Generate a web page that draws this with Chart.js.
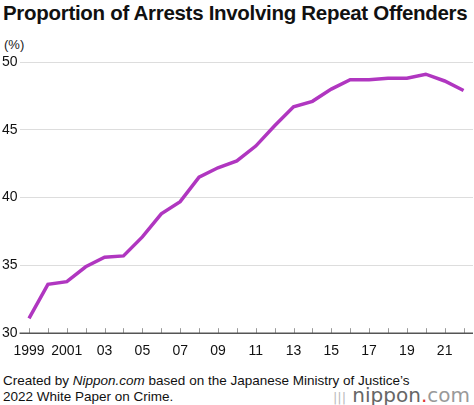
<!DOCTYPE html><html><head><style>body{margin:0;background:#fff;font-family:"Liberation Sans",Arial,sans-serif}
#t{position:absolute;left:3px;top:1px;font-weight:bold;font-size:20.5px;color:#111;letter-spacing:-0.3px}
#u{position:absolute;left:4px;top:37px;font-size:13px;color:#222}
#c{position:absolute;left:0;top:50px;width:474px;height:312px}
#f{position:absolute;left:3px;top:373px;font-size:13.5px;line-height:16px;color:#111}
#l{position:absolute;right:4px;top:383px;font-size:20px;color:#666;font-family:"DejaVu Sans",sans-serif}
</style><script src="https://cdn.jsdelivr.net/npm/chart.js@4"></script></head><body>
<div id="t">Proportion of Arrests Involving Repeat Offenders</div>
<div id="u">(%)</div>
<div id="c"><canvas id="cv"></canvas></div>
<div id="f">Created by <i>Nippon.com</i> based on the Japanese Ministry of Justice’s<br>2022 White Paper on Crime.</div>
<div id="l"><span style="color:#bbb;font-size:13px">|||</span> nippon<span style="color:#d33">.</span><span style="color:#999">com</span></div>
<script>
const years=["1999","2000","2001","2002","2003","2004","2005","2006","2007","2008","2009","2010","2011","2012","2013","2014","2015","2016","2017","2018","2019","2020","2021","2022"];
const tickLabels=["1999","","2001","","03","","05","","07","","09","","11","","13","","15","","17","","19","","21",""];
const values=[31.1,33.6,33.8,34.9,35.6,35.7,37.1,38.8,39.7,41.5,42.2,42.7,43.8,45.3,46.7,47.1,48.0,48.7,48.7,48.8,48.8,49.1,48.6,47.9];
const upTicks={id:'up',afterDatasetsDraw(ch){const x=ch.scales.x,y=ch.scales.y,c=ch.ctx;c.save();c.strokeStyle='#999';c.lineWidth=1;const yb=y.getPixelForValue(30);years.forEach((v,i)=>{const px=Math.round(x.getPixelForValue(i))+0.5;c.beginPath();c.moveTo(px,yb);c.lineTo(px,yb-5);c.stroke();});c.strokeStyle='#555';c.lineWidth=1.5;c.beginPath();c.moveTo(x.left,yb);c.lineTo(x.right,yb);c.stroke();c.restore();}};
new Chart(document.getElementById('cv'),{type:'line',data:{labels:years,datasets:[{data:values,borderColor:'#b036c0',borderWidth:3.5,pointRadius:0,tension:0,clip:false}]},
options:{responsive:true,maintainAspectRatio:false,animation:false,layout:{padding:{right:1,top:12}},plugins:{legend:{display:false},tooltip:{enabled:false}},
scales:{x:{offset:true,grid:{display:false},border:{display:false},ticks:{autoSkip:false,maxRotation:0,color:'#111',font:{size:14,family:'Liberation Sans'},padding:2,callback:(v,i)=>tickLabels[i]}},
y:{min:30,max:50,ticks:{stepSize:5,color:'#111',font:{size:14,family:'Liberation Sans'},padding:2},grid:{color:'#ddd',drawTicks:false},border:{display:false}}}},plugins:[upTicks]});
</script></body></html>
